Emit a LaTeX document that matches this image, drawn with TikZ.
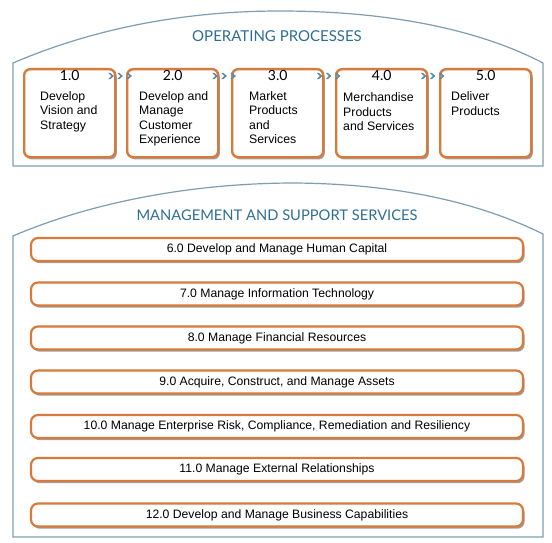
\documentclass[tikz,border=0pt]{standalone}
\usepackage{fontspec}
\setmainfont{Liberation Sans}
\newfontfamily\titlefont{Lato}
\usetikzlibrary{shadows,calc}
\definecolor{frame}{HTML}{7E9DB3}
\definecolor{ttl}{HTML}{2F6F94}
\definecolor{org}{HTML}{D77A3B}
\definecolor{chev}{HTML}{5B8AAA}
\tikzset{
  pbox/.style={draw=org, line width=2.4pt, fill=white, rounded corners=6pt,
    minimum width=91pt, minimum height=88pt, anchor=north west, inner sep=0pt,
    drop shadow={shadow xshift=1.6pt, shadow yshift=-2.2pt, opacity=.5, fill=black!75}},
  pbar/.style={draw=org, line width=2.2pt, fill=white, rounded corners=7pt,
    minimum width=492pt, minimum height=23pt, inner sep=0pt,
    font=\fontsize{12.2}{14}\selectfont,
    drop shadow={shadow xshift=1.6pt, shadow yshift=-2.2pt, opacity=.5, fill=black!75}},
  numtxt/.style={font=\titlefont\fontsize{14}{16}\selectfont, anchor=base, inner sep=0pt},
  bodytxt/.style={font=\fontsize{12.3}{14.5}\selectfont, align=left, anchor=base west, inner sep=0pt},
  ttltxt/.style={font=\titlefont\fontsize{15}{17}\selectfont, text=ttl, anchor=base, inner sep=0pt},
  frm/.style={draw=frame, line width=1.2pt},
  chevs/.pic={
    \foreach \i in {-9,0,9}{
      \fill[chev] (\i-3,-3.2) -- (\i-0.8,-3.2) -- (\i+2.6,0) -- (\i-0.8,3.2) -- (\i-3,3.2) -- (\i+0.3,0) -- cycle;
    }
  }
}
\begin{document}
\begin{tikzpicture}[x=1pt,y=-1pt]
\useasboundingbox (0,0) rectangle (552,543);
\fill[white] (0,0) rectangle (552,543);

% top container
\draw[frm] (13,166) -- (13,63) .. controls (90,30) and (180,11) .. (280,11)
  .. controls (390,11) and (480,30) .. (543,63) -- (543,166) -- cycle;
\node[ttltxt] (t1) at (277,42) {OPERATING PROCESSES};

% process boxes
\node[pbox] (b1) at (23,68) {};
\node[pbox] (b2) at (126,68) {};
\node[pbox] (b3) at (231,68) {};
\node[pbox] (b4) at (335,68) {};
\node[pbox] (b5) at (439,68) {};

\node[numtxt] (n1) at ($(b1.north)+(0,13)$) {1.0};
\node[numtxt] (n2) at ($(b2.north)+(0,13)$) {2.0};
\node[numtxt] (n3) at ($(b3.north)+(0,13)$) {3.0};
\node[numtxt] (n4) at ($(b4.north)+(0,13)$) {4.0};
\node[numtxt] (n5) at ($(b5.north)+(0,13)$) {5.0};

% base anchor = baseline of the last line
\node[bodytxt] (l1) at (40,129) {Develop\\Vision and\\Strategy};
\node[bodytxt] (l2) at (139,143.5) {Develop and\\Manage\\Customer\\Experience};
\node[bodytxt] (l3) at (249,143.5) {Market\\Products\\and\\Services};
\node[bodytxt] (l4) at (343,131) {Merchandise\\Products\\and Services};
\node[bodytxt] (l5) at (451,115.5) {Deliver\\Products};

\path ($(b1.north east)!0.5!(b2.north west)+(-1,8)$) pic{chevs};
\path ($(b2.north east)!0.5!(b3.north west)+(-1,8)$) pic{chevs};
\path ($(b3.north east)!0.5!(b4.north west)+(-1,8)$) pic{chevs};
\path ($(b4.north east)!0.5!(b5.north west)+(-1,8)$) pic{chevs};

% bottom container
\draw[frm] (13,537) -- (13,236) .. controls (90,203) and (190,183) .. (295,183)
  .. controls (400,184) and (480,203) .. (543,234) -- (543,537) -- cycle;
\node[ttltxt, font=\titlefont\fontsize{14.7}{17}\selectfont] (t2) at (277,220) {MANAGEMENT AND SUPPORT SERVICES};

\node[pbar] (s6) at (277,249.5) {6.0 Develop and Manage Human Capital};
\node[pbar] (s7) at (277,294) {7.0 Manage Information Technology};
\node[pbar] (s8) at (277,338) {8.0 Manage Financial Resources};
\node[pbar] (s9) at (277,382) {9.0 Acquire, Construct, and Manage Assets};
\node[pbar] (s10) at (277,426.5) {10.0 Manage Enterprise Risk, Compliance, Remediation and Resiliency};
\node[pbar] (s11) at (277,469.5) {11.0 Manage External Relationships};
\node[pbar] (s12) at (277,515) {12.0 Develop and Manage Business Capabilities};
\end{tikzpicture}
\end{document}
